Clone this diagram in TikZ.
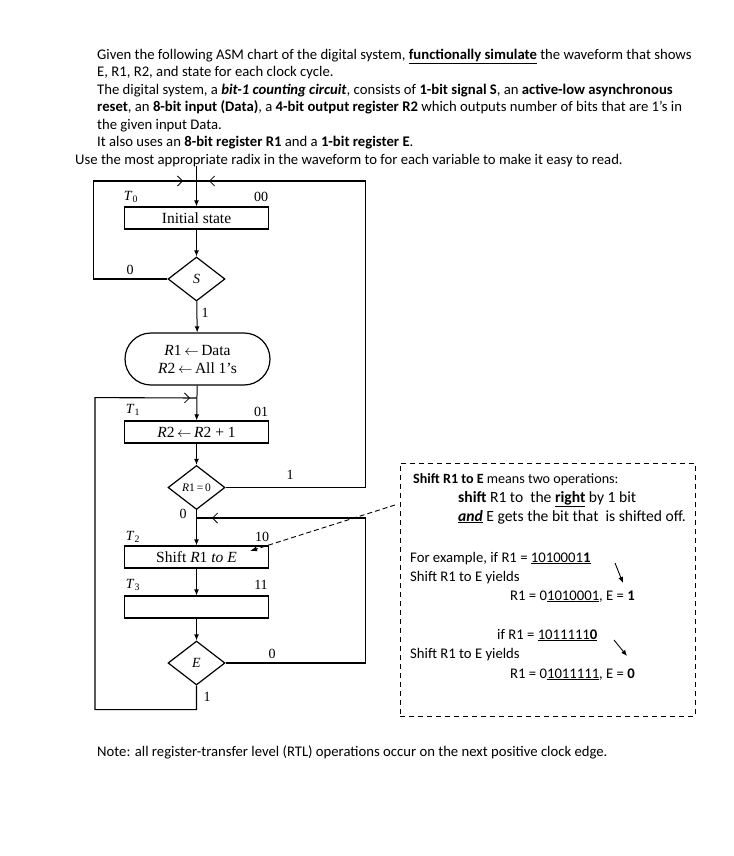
\documentclass[tikz,border=0pt]{standalone}
\usepackage{fontspec}
\setmainfont{Carlito}
\newfontfamily\chartfont{Liberation Serif}
\usetikzlibrary{arrows.meta,decorations.markings,shapes.geometric}
\newcommand{\lar}{\,$\leftarrow$\,}
\begin{document}
\begin{tikzpicture}[x=1pt,y=-1pt,
  txt/.style={anchor=base west, inner sep=0pt, font=\fontsize{14.7}{17}\selectfont},
  box/.style={draw, line width=1.2pt, minimum width=144pt, minimum height=22pt, inner sep=0pt, font=\chartfont\fontsize{15.5}{17}\selectfont},
  dia/.style={draw, line width=1.2pt, shape=diamond, minimum width=57pt, minimum height=44pt, inner sep=0pt, font=\chartfont\fontsize{14}{16}\selectfont},
  oval/.style={draw, line width=1.2pt, rounded corners=26pt, minimum width=145pt, minimum height=52pt, inner sep=0pt, align=center, font=\chartfont\fontsize{15.5}{18}\selectfont},
  lbl/.style={inner sep=0pt, font=\chartfont\fontsize{14}{16}\selectfont},
  arr/.style={line width=1pt, -{Latex[length=6pt,width=5pt]}},
  loopline/.style={line width=1.1pt},
  barbmark/.style={postaction={decorate}, decoration={markings, mark=at position #1 with {\arrow{Straight Barb[length=5pt,width=10pt,line width=0.8pt]}}}},
  smallarr/.style={line width=0.9pt, -{Latex[length=6pt,width=5pt]}}
]
\useasboundingbox (0,0) rectangle (733,856);

% --- header text ---
\node[txt] (l1) at (97,59.3) {Given the following ASM chart of the digital system, \textbf{\underline{functionally simulate}} the waveform that shows};
\node[txt] (l2) at (97,76.8) {E, R1, R2, and state for each clock cycle.};
\node[txt] (l3) at (97,94.3) {The digital system, a \textbf{\textit{bit-1 counting circuit}}, consists of \textbf{1-bit signal S}, an \textbf{active-low asynchronous}};
\node[txt] (l4) at (97,111.7) {\textbf{reset}, an \textbf{8-bit input (Data)}, a \textbf{4-bit output register R2} which outputs number of bits that are 1’s in};
\node[txt] (l5) at (97,129.2) {the given input Data.};
\node[txt] (l6) at (97,146.7) {It also uses an \textbf{8-bit register R1} and a \textbf{1-bit register E}.};
\node[txt] (l7) at (75,164.2) {Use the most appropriate radix in the waveform to for each variable to make it easy to read.};

% --- chart nodes ---
\node[box] (t0) at (196.5,218) {Initial state};
\node[dia] (s) at (196.5,279) {\textit{S}};
\node[oval] (load) at (197.5,359) {\textit{R}1\lar Data\\\textit{R}2\lar All 1’s};
\node[box] (t1) at (196.5,432) {\textit{R}2\lar\textit{R}2 + 1};
\node[dia, font=\chartfont\fontsize{11.5}{13}\selectfont] (z) at (196.5,487.5) {\textit{R}1\,=\,0};
\node[box] (t2) at (196.5,557) {Shift \textit{R}1 \textit{to E}};
\node[box] (t3) at (196.5,607) {};
\node[dia] (e) at (196.5,663) {\textit{E}};

\coordinate (top) at (196.5,166);
\coordinate (j0) at (196.5,181);
\coordinate (j1) at (196.5,398);
\coordinate (j2) at (196.5,518);

% --- main flow ---
\draw[arr] (top) -- (t0);
\draw[arr] (t0) -- (s);
\draw[arr] (s) -- (load);
\draw[arr] (load) -- (t1);
\draw[arr] (t1) -- (z);
\draw[arr] (z) -- (t2);
\draw[arr] (t2) -- (t3);
\draw[arr] (t3) -- (e);

% --- loops ---
\draw[loopline, barbmark=-13.5pt] (s.west) -- ++(-73.5,0) |- (j0);
\draw[loopline, barbmark=-12.5pt] (z.east) -- ++(140,0) |- (j0);
\draw[loopline, barbmark=-6.5pt] (e.south) -- ++(0,24) -| ++(-101.5,-312) -- (j1);
\draw[loopline, barbmark=-15.5pt] (e.east) -- ++(140,0) |- (j2);

% --- labels ---
\node[lbl] (lt0) at (131,197) {\textit{T}\textsubscript{0}};
\node[lbl] (c00) at (261,197) {00};
\node[lbl] (s0) at (130,270) {0};
\node[lbl] (s1) at (205,313) {1};
\node[lbl] (lt1) at (133,410) {\textit{T}\textsubscript{1}};
\node[lbl] (c01) at (261,412) {01};
\node[lbl] (z1) at (290,475) {1};
\node[lbl] (z0) at (183,514) {0};
\node[lbl] (lt2) at (133,537) {\textit{T}\textsubscript{2}};
\node[lbl] (c10) at (262,537) {10};
\node[lbl] (lt3) at (133,585) {\textit{T}\textsubscript{3}};
\node[lbl] (c11) at (261,585) {11};
\node[lbl] (e0) at (272,654) {0};
\node[lbl] (e1) at (207,697) {1};

% --- note box ---
\node[draw, dashed, dash pattern=on 5pt off 4pt, line width=1pt, minimum width=295pt, minimum height=253pt, inner sep=0pt] (nb) at (547.5,589.5) {};
\coordinate (dsrc) at (395,505);
\coordinate (dtip) at (250,551);
\draw[dashed, dash pattern=on 5pt off 3pt, line width=0.9pt, -{Latex[length=7pt,width=5pt]}] (dsrc) -- (dtip);

\node[txt, font=\fontsize{14.1}{17}\selectfont] (n1) at (413,483) {\textbf{Shift R1 to E} means two operations:};
\node[txt, font=\fontsize{15.6}{18}\selectfont] (n2) at (458,502) {\textbf{shift} R1 to \ the \textbf{\underline{right}} by 1 bit};
\node[txt, font=\fontsize{15.6}{18}\selectfont] (n3) at (458,521) {\textbf{\textit{\underline{and}}} E gets the bit that \ is shifted off.};
\node[txt] (n4) at (410,562) {For example, if R1 = \underline{1010001\textbf{1}}};
\node[txt] (n5) at (410,581) {Shift R1 to E yields};
\node[txt] (n6) at (510,600) {R1 = 0\underline{1010001}, E = \textbf{1}};
\node[txt] (n7) at (497,639) {if R1 = \underline{1011111\textbf{0}}};
\node[txt] (n8) at (410,658) {Shift R1 to E yields};
\node[txt] (n9) at (510,678) {R1 = 0\underline{1011111}, E = \textbf{0}};
\coordinate (a1s) at (615,563);
\coordinate (a1e) at (623,583);
\coordinate (a2s) at (614,640);
\coordinate (a2e) at (627,656);
\draw[smallarr] (a1s) -- (a1e);
\draw[smallarr] (a2s) -- (a2e);

\node[txt] (note) at (97,756) {Note: all register-transfer level (RTL) operations occur on the next positive clock edge.};
\end{tikzpicture}
\end{document}
